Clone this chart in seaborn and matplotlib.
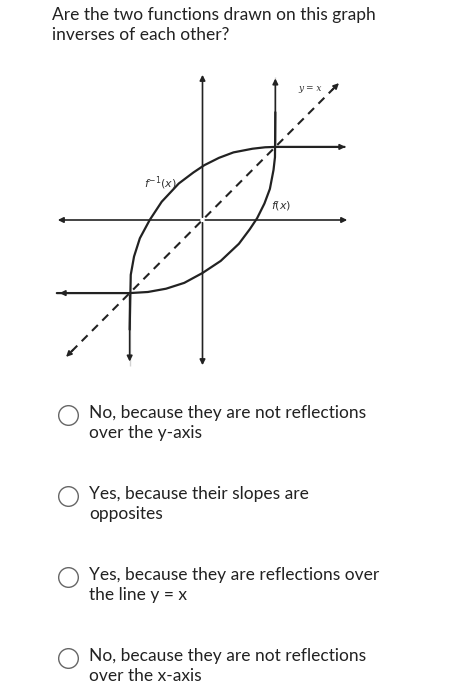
import seaborn as sns
import matplotlib.pyplot as plt
import pandas as pd

# Data (graph units, intersections at (-2,-2) and (2,2))
f_x = [-4.0, -2.0, -1.5, -1.0, -0.5, 0.0, 0.5, 1.0, 1.3, 1.5, 1.7, 1.85, 1.95, 1.99, 2.0, 2.0]
f_y = [-2.0, -2.0, -1.97, -1.88, -1.72, -1.45, -1.12, -0.65, -0.25, 0.05, 0.45, 0.85, 1.37, 1.72, 2.0, 3.9]
diag = [-3.6, 3.6]

question = "Are the two functions drawn on this graph\ninverses of each other?"
options = [
    "No, because they are not reflections\nover the y-axis",
    "Yes, because their slopes are\nopposites",
    "Yes, because they are reflections over\nthe line y = x",
    "No, because they are not reflections\nover the x-axis",
]
option_y = [415, 496, 577, 658]

sns.set_style("white")
plt.rcParams['font.family'] = ['Lato', 'DejaVu Sans']

fig = plt.figure(figsize=(4.49, 7), dpi=100)

# graph
ax = fig.add_axes([55 / 449, 332 / 700, 295 / 449, 296 / 700])
ax.set_xlim(-4.05, 4.05)
ax.set_ylim(-4.05, 4.05)
ax.axis('off')
df_f = pd.DataFrame({'x': f_x, 'y': f_y})
df_inv = pd.DataFrame({'x': f_y, 'y': f_x})
sns.lineplot(data=df_f, x='x', y='y', sort=False, color='#222222', lw=1.6, ax=ax)
sns.lineplot(data=df_inv, x='x', y='y', sort=False, color='#222222', lw=1.6, ax=ax)
ax.lines[-1].set_linestyle('-')
sns.lineplot(x=diag, y=diag, color='#222222', lw=1.5, ax=ax)
ax.lines[-1].set_dashes([4, 3])

arrow = dict(arrowstyle='-|>', color='#222222', lw=1.2, mutation_scale=8)
for (x0, y0), (x1, y1) in [((0, 0), (4.05, 0)), ((0, 0), (-4.05, 0)),
                           ((0, 0), (0, 4.05)), ((0, 0), (0, -4.05)),
                           ((2, 2), (4.0, 2)), ((2, 2), (2, 3.95)),
                           ((-2, -2), (-4.0, -2)), ((-2, -2), (-2, -3.95)),
                           ((3.5, 3.5), (3.8, 3.8)), ((-3.5, -3.5), (-3.8, -3.8))]:
    ax.annotate('', xy=(x1, y1), xytext=(x0, y0), arrowprops=arrow)

ax.text(2.95, 3.6, 'y = x', fontsize=6.5, style='italic', family='DejaVu Serif', ha='center', va='center', color='#333333')
ax.text(-1.15, 1.0, '$f^{-1}(x)$', fontsize=8, ha='center', va='center', color='#333333')
ax.text(2.15, 0.4, '$f(x)$', fontsize=8, ha='center', va='center', color='#333333')

# text overlay in pixel coordinates
ov = fig.add_axes([0, 0, 1, 1], zorder=-1)
ov.set_xlim(0, 449)
ov.set_ylim(700, 0)
ov.axis('off')
ov.text(52, 7, question, fontsize=12.5, va='top', ha='left', color='#222222', linespacing=1.3)
for y, label in zip(option_y, options):
    ov.scatter([68], [y], s=200, facecolors='white', edgecolors='#666666', linewidths=1.0)
    ov.text(89, y - 10, label, fontsize=12.5, va='top', ha='left', color='#222222', linespacing=1.3)

plt.savefig('out.png', dpi=100)
